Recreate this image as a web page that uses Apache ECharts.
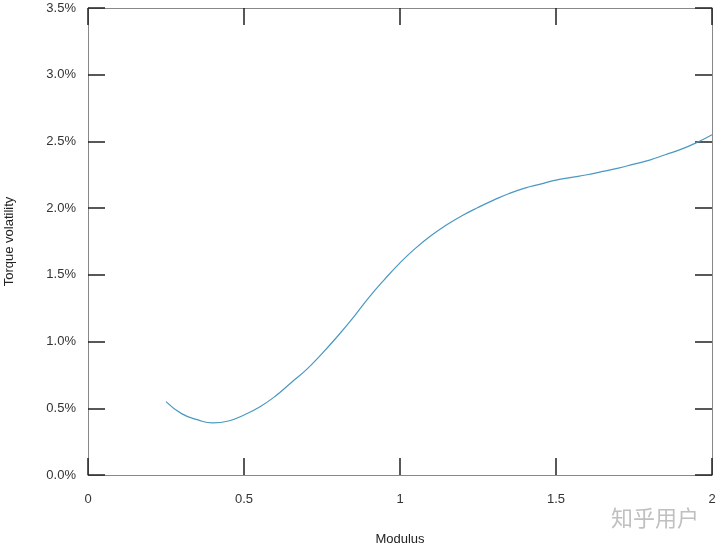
<!DOCTYPE html>
<html>
<head>
<meta charset="utf-8">
<script src="https://cdn.jsdelivr.net/npm/echarts@6/dist/echarts.min.js"></script>
<style>
  html, body { margin: 0; padding: 0; background: #fff; }
  #chart { width: 720px; height: 544px; }
</style>
</head>
<body>
<div id="chart"></div>
<script>
// modulus vs torque volatility (%)
var modulus = [0.25, 0.3, 0.35, 0.4, 0.45, 0.5, 0.55, 0.6, 0.65, 0.7, 0.75, 0.8, 0.85, 0.9, 0.95, 1.0,
  1.05, 1.1, 1.15, 1.2, 1.25, 1.3, 1.35, 1.4, 1.45, 1.5, 1.55, 1.6, 1.65, 1.7, 1.75, 1.8, 1.85, 1.9, 1.95, 2.0];
var volatility = [0.55, 0.46, 0.415, 0.39, 0.405, 0.45, 0.51, 0.59, 0.69, 0.79, 0.91, 1.04, 1.18, 1.33, 1.465, 1.59,
  1.70, 1.795, 1.875, 1.945, 2.005, 2.06, 2.11, 2.15, 2.18, 2.21, 2.23, 2.25, 2.275, 2.30, 2.33, 2.36, 2.40, 2.44, 2.49, 2.55];
var xTicks = [0, 0.5, 1, 1.5, 2];

var chart = echarts.init(document.getElementById('chart'));

var font = 'Liberation Sans, Arial, sans-serif';
var tickStyle = { show: true, inside: true, length: 17, lineStyle: { color: '#222', width: 1.5 } };
var lineStyle = { show: true, onZero: false, lineStyle: { color: '#888', width: 1 } };

chart.setOption({
  animation: false,
  grid: { left: 88, right: 8, top: 8, bottom: 69, containLabel: false, outerBoundsMode: 'none' },
  xAxis: [{
    type: 'value', min: 0, max: 2, interval: 0.5, position: 'bottom',
    name: 'Modulus', nameLocation: 'middle', nameGap: 58,
    nameTextStyle: { fontFamily: font, fontSize: 13, color: '#222' },
    axisLine: lineStyle, axisTick: tickStyle, splitLine: { show: false },
    axisLabel: { fontFamily: font, fontSize: 13, color: '#333', margin: 18,
      formatter: function (v) { return xTicks.indexOf(v) >= 0 ? String(v) : ''; } }
  }, {
    type: 'value', min: 0, max: 2, interval: 0.5, position: 'top',
    axisLine: lineStyle, axisTick: tickStyle, splitLine: { show: false },
    axisLabel: { show: false }
  }],
  yAxis: [{
    type: 'value', min: 0, max: 3.5, interval: 0.5, position: 'left',
    name: 'Torque volatility', nameLocation: 'middle', nameGap: 72, nameRotate: 90,
    nameTextStyle: { fontFamily: font, fontSize: 13, color: '#222' },
    axisLine: lineStyle, axisTick: tickStyle, splitLine: { show: false },
    axisLabel: { fontFamily: font, fontSize: 13, color: '#333', margin: 12,
      formatter: function (v) { return v.toFixed(1) + '%'; } }
  }, {
    type: 'value', min: 0, max: 3.5, interval: 0.5, position: 'right',
    axisLine: lineStyle, axisTick: tickStyle, splitLine: { show: false },
    axisLabel: { show: false }
  }],
  graphic: [{
    type: 'text', left: 611, top: 507,
    style: { text: '知乎用户', font: '22px "Noto Sans CJK SC"', fill: '#c0c0c0' }
  }],
  series: [{
    type: 'line',
    data: modulus.map(function (m, i) { return [m, volatility[i]]; }),
    smooth: true,
    showSymbol: false,
    lineStyle: { color: '#4a98c2', width: 1.2 }
  }]
});
</script>
</body>
</html>
